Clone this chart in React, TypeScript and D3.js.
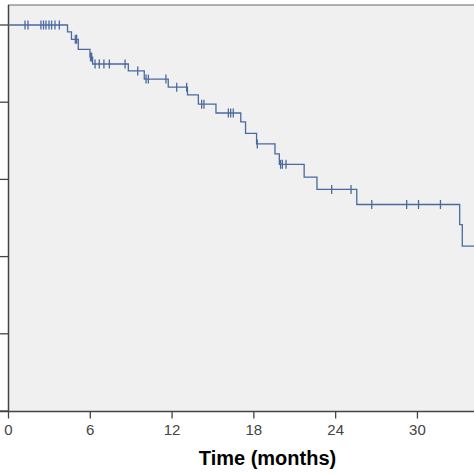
import React from "react";
import * as d3 from "d3";

const stepTimes = [0, 4.33, 4.62, 5.12, 5.98, 6.17, 8.79, 9.96, 11.72, 13.13, 13.93, 15.22, 17.04, 17.39, 18.2, 19.55, 19.87, 21.69, 22.63, 25.55, 33.1, 33.29];
const survival = [1.0, 0.982, 0.963, 0.937, 0.917, 0.899, 0.881, 0.86, 0.839, 0.819, 0.795, 0.772, 0.749, 0.719, 0.692, 0.666, 0.639, 0.606, 0.574, 0.535, 0.483, 0.427];
const censorTimes = [1.21, 1.43, 2.38, 2.57, 2.75, 2.97, 3.16, 3.41, 3.73, 4.9, 5.0, 6.02, 6.1, 6.35, 6.66, 7.0, 7.4, 8.55, 9.48, 10.09, 10.26, 11.55, 12.34, 13.07, 14.17, 14.34, 16.13, 16.3, 16.49, 18.25, 19.96, 20.09, 20.36, 23.71, 25.13, 26.65, 29.21, 30.08, 31.69];
const xTicks = [0, 6, 12, 18, 24, 30];
const yTicks = [0, 0.2, 0.4, 0.6, 0.8, 1.0];
const xTitle = "Time (months)";
const endTime = 34.6;

export default function App() {
  const W = 474, H = 474;
  const x = d3.scaleLinear().domain([0, 34.15]).range([8.5, 474]);
  const y = d3.scaleLinear().domain([0, 1]).range([411, 25]);
  const pts: [number, number][] = stepTimes.map((t, i) => [t, survival[i]]);
  pts.push([endTime, survival[survival.length - 1]]);
  const line = d3.line<[number, number]>().x(d => x(d[0])).y(d => y(d[1])).curve(d3.curveStepAfter);
  const survAt = (t: number) => {
    let s = 1;
    for (let i = 0; i < stepTimes.length; i++) if (stepTimes[i] <= t) s = survival[i];
    return s;
  };
  const col = "#4a6aa0";
  return (
    <svg width={W} height={H} style={{ position: "absolute", left: 0, top: 0, background: "#fff" }}>
      <rect x={8} y={5} width={480} height={406} fill="#f0f0f0" />
      <line x1={8} y1={5} x2={480} y2={5} stroke="#666" strokeWidth={1.2} />
      <line x1={8.5} y1={5} x2={8.5} y2={411.5} stroke="#444" strokeWidth={1.5} />
      <line x1={0} y1={411.5} x2={480} y2={411.5} stroke="#444" strokeWidth={1.5} />
      {yTicks.map(v => (
        <line key={"yt" + v} x1={0} x2={8} y1={y(v)} y2={y(v)} stroke="#444" strokeWidth={1.3} />
      ))}
      {xTicks.map(v => (
        <g key={"xt" + v}>
          <line x1={x(v)} x2={x(v)} y1={411.5} y2={418.5} stroke="#444" strokeWidth={1.3} />
          <text x={x(v)} y={435} textAnchor="middle" fontFamily="Liberation Sans, Arial, sans-serif" fontSize={15} fill="#444">{v}</text>
        </g>
      ))}
      <path d={line(pts) || ""} fill="none" stroke={col} strokeWidth={1.3} />
      {censorTimes.map((t, i) => {
        const cx = x(t), cy = y(survAt(t));
        return <line key={"c" + i} x1={cx} x2={cx} y1={cy - 4.5} y2={cy + 4.5} stroke={col} strokeWidth={1.3} />;
      })}
      <text x={267.5} y={465} textAnchor="middle" fontFamily="Liberation Sans, Arial, sans-serif" fontSize={20} fontWeight="bold" fill="#000">{xTitle}</text>
    </svg>
  );
}
